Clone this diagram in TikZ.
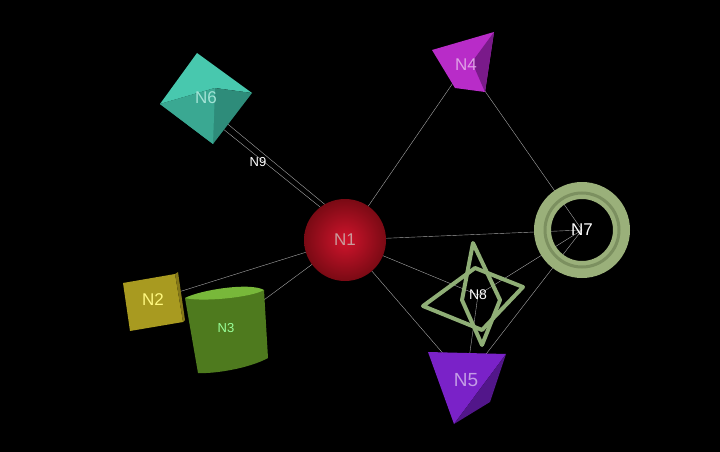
\documentclass[tikz,border=0pt]{standalone}
\usepackage{fontspec}
\setmainfont{Liberation Sans}
\begin{document}
\begin{tikzpicture}[x=1pt,y=-1pt,
  edge/.style={draw=gray!70,line width=0.4pt},
  lbl/.style={font=\fontsize{17}{17}\selectfont}]
\fill[black] (0,0) rectangle (720,452);
\useasboundingbox (0,0) rectangle (720,452);
\coordinate (c1) at (345,240);
\coordinate (c6) at (206,98);
\coordinate (c4) at (466,64);
\coordinate (c7) at (582,230);
\coordinate (c8) at (478,295);
\coordinate (c5) at (466,380);
\coordinate (c2) at (153,300);
\coordinate (c3) at (226,328);
\draw[edge] (c1)--(c4); \draw[edge] (c1)--(c7); \draw[edge] (c1)--(c8);
\draw[edge] (c1)--(c5); \draw[edge] (c1)--(c2); \draw[edge] (c1)--(c3);
\draw[edge] (c4)--(c7); \draw[edge] (c7)--(c8); \draw[edge] (c7)--(c5);
\draw[edge] (c8)--(c5);
\draw[edge] (212,120)--(330,215); \draw[edge] (218,116)--(334,212);
% N6
\definecolor{t1}{HTML}{48C8AE}\definecolor{t2}{HTML}{2E8C7A}\definecolor{t3}{HTML}{3AA892}
\fill[t1] (197,53)--(252,93)--(215,88)--(160,104)--cycle;
\fill[t2] (160,104)--(213,144)--(252,93)--(215,88)--cycle;
\fill[t3] (160,104)--(213,144)--(215,88)--cycle;
\node[lbl,text=t1!50!white] (n6) at (206,98) {N6};
% N4
\definecolor{m1}{HTML}{B82CC8}\definecolor{m2}{HTML}{7A1A8A}
\fill[m1] (432,50)--(494,32)--(485,92)--(455,88)--cycle;
\fill[m2] (494,32)--(485,92)--(472,62)--cycle;
\node[lbl,text=m1!45!white] (n4) at (466,65) {N4};
\node[text=white,font=\fontsize{13}{13}\selectfont] (n9) at (258,162) {N9};
% N1
\definecolor{r1}{HTML}{D0142C}\definecolor{r2}{HTML}{7A0A14}
\shade[inner color=r1,outer color=r2] (c1) circle (41);
\node[lbl,text=red!30!gray!60!white] (n1) at (c1) {N1};
% N2
\definecolor{y1}{HTML}{A89A20}\definecolor{y2}{HTML}{857818}
\fill[y1] (123,283)--(175,274)--(183,322)--(130,331)--cycle;
\fill[y2] (175,274)--(178,272)--(185,320)--(183,322)--cycle;
\node[lbl,text=yellow!50!white] (n2) at (c2) {N2};
% N3
\definecolor{g1}{HTML}{4E7A1E}\definecolor{g2}{HTML}{78B83A}
\fill[g1] (185,298)--(264,290)--(268,358) .. controls (250,368) and (215,374) .. (198,373)--cycle;
\fill[g2] (185,298) .. controls (200,290) and (250,282) .. (264,290) .. controls (250,298) and (200,302) .. (185,298);
\node[text=green!40!white,font=\fontsize{13}{13}\selectfont] (n3) at (c3) {N3};
% N7
\definecolor{k1}{HTML}{9AB07A}\definecolor{k2}{HTML}{7C9060}
\fill[even odd rule,k1] (c7) circle (48) (c7) circle (31);
\draw[k2,line width=3pt] (c7) circle (37);
\node[lbl,text=white] (n7) at (c7) {N7};
% N8
\definecolor{s1}{HTML}{8FAE76}
\begin{scope}[draw=s1,line width=4pt,line join=round]
\draw (473,243)--(500,300)--(482,345)--(462,300)--cycle;
\draw (423,306)--(475,268)--(523,287)--(482,330)--cycle;
\end{scope}
\node[text=white,font=\fontsize{14}{14}\selectfont] (n8) at (c8) {N8};
% N5
\definecolor{p1}{HTML}{7A22C8}\definecolor{p2}{HTML}{52168A}
\fill[p1] (428,352)--(506,354)--(454,424)--cycle;
\fill[p2] (506,354)--(490,402)--(454,424)--cycle;
\node[font=\fontsize{19}{19}\selectfont,text=p1!45!white] (n5) at (466,380) {N5};
\end{tikzpicture}
\end{document}
